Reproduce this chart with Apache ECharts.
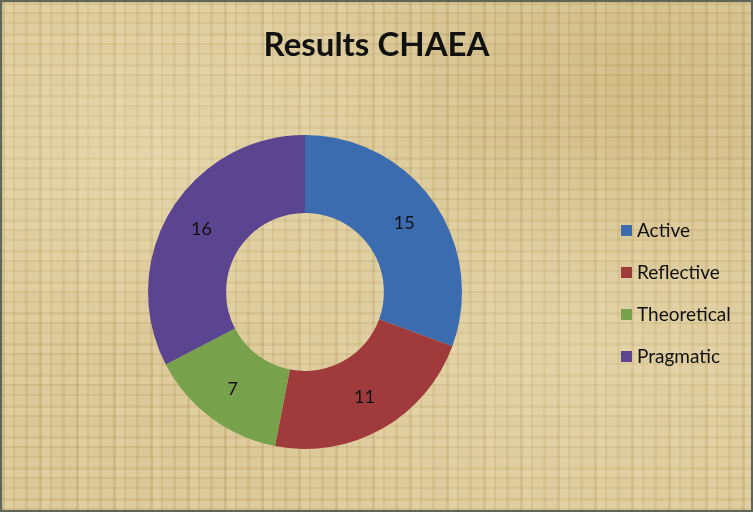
<!DOCTYPE html>
<html><head><meta charset="utf-8">
<script src="https://cdn.jsdelivr.net/npm/echarts@6/dist/echarts.min.js"></script>
<style>
html,body{margin:0;padding:0;}
#wrap{width:753px;height:512px;box-sizing:border-box;border:2px solid #5d6659;
background-color:#d5c08c;
background-image:
 radial-gradient(ellipse at 20% 30%, rgba(245,235,200,0.35) 0%, rgba(245,235,200,0) 40%),
 radial-gradient(ellipse at 75% 70%, rgba(240,230,195,0.30) 0%, rgba(240,230,195,0) 45%),
 radial-gradient(ellipse at 85% 15%, rgba(170,140,70,0.20) 0%, rgba(170,140,70,0) 35%),
 repeating-linear-gradient(90deg, rgba(150,120,55,0.14) 0px, rgba(150,120,55,0.14) 3px, rgba(250,240,205,0.16) 3px, rgba(250,240,205,0.16) 11px, rgba(140,110,50,0.08) 11px, rgba(140,110,50,0.08) 13px, rgba(250,242,210,0.10) 13px, rgba(250,242,210,0.10) 23px, rgba(160,130,60,0.10) 23px, rgba(160,130,60,0.10) 26px, rgba(255,248,220,0.08) 26px, rgba(255,248,220,0.08) 37px),
 repeating-linear-gradient(0deg, rgba(145,115,50,0.12) 0px, rgba(145,115,50,0.12) 2px, rgba(250,240,205,0.16) 2px, rgba(250,240,205,0.16) 9px, rgba(140,110,45,0.08) 9px, rgba(140,110,45,0.08) 12px, rgba(255,248,222,0.10) 12px, rgba(255,248,222,0.10) 21px, rgba(150,120,55,0.09) 21px, rgba(150,120,55,0.09) 23px, rgba(250,242,212,0.08) 23px, rgba(250,242,212,0.08) 31px);
}
#chart{width:749px;height:508px;}
</style></head>
<body><div id="wrap"><div id="chart"></div></div>
<script>
var categories = ["Active", "Reflective", "Theoretical", "Pragmatic"];
var values = [15, 11, 7, 16];
var colors = ["#3b6cb0", "#9f3b3c", "#77a24b", "#5b4591"];
var titleText = "Results CHAEA";

var chart = echarts.init(document.getElementById('chart'), null, {renderer:'canvas'});
var data = categories.map(function(c,i){return {name:c, value:values[i], itemStyle:{color:colors[i]}};});
chart.setOption({
  backgroundColor: 'transparent',
  animation: false,
  title: {
    text: titleText, left: 'center', top: 22,
    textStyle: {fontFamily: 'Lato', fontWeight: 'bold', fontSize: 33, color: '#111'}
  },
  legend: {
    orient: 'vertical', left: 614, top: 214,
    itemWidth: 11, itemHeight: 11, itemGap: 23,
    icon: 'rect',
    data: categories,
    textStyle: {fontFamily: 'Lato', fontSize: 19, color: '#111'}
  },
  series: [{
    type: 'pie',
    center: [303, 290],
    radius: [79, 157],
    startAngle: 90,
    clockwise: true,
    data: data,
    label: {show: true, position: 'inside', formatter: '{c}', fontFamily: 'Lato', fontSize: 18, color: '#111'},
    labelLine: {show: false},
    itemStyle: {borderWidth: 0}
  }]
});
</script></body></html>
